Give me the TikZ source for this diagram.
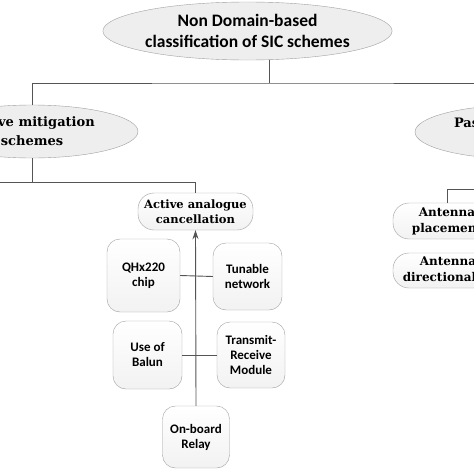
\documentclass[tikz,border=0pt]{standalone}
\usepackage{fontspec}
\setmainfont{DejaVu Serif}
\newfontfamily\calib{Carlito}
\usetikzlibrary{shapes.geometric,arrows.meta}
\definecolor{rim}{HTML}{A0A0A0}
\definecolor{wire}{HTML}{555555}
\definecolor{ovalfill}{HTML}{EEEEEE}
\definecolor{cardfill}{HTML}{F2F2F2}
\tikzset{
  oval/.style={ellipse, draw=rim, fill=ovalfill, inner sep=0pt, align=center,
    font=\fontsize{13}{19}\selectfont\bfseries},
  pill/.style={draw=rim, rounded corners=16pt, top color=white, bottom color=cardfill,
    inner sep=0pt, align=center, font=\fontsize{11.5}{15}\selectfont\bfseries},
  card/.style={draw=rim, rounded corners=13pt, top color=white, bottom color=cardfill,
    inner sep=0pt, align=center, font=\calib\fontsize{13}{15}\selectfont\bfseries},
  link/.style={draw=wire, line width=0.9pt},
}

\begin{document}
\begin{tikzpicture}[x=1pt,y=-1pt]
\useasboundingbox (0,0) rectangle (474,474);
\clip (0,0) rectangle (474,474);
\fill[white] (0,0) rectangle (474,474);

% level one
\node[oval, minimum width=285, minimum height=58,
  font=\calib\fontsize{17.5}{21}\selectfont\bfseries] (root) at (247.5,31)
  {Non Domain-based\\classification of SIC schemes};
\node[oval, minimum width=212, minimum height=53] (active) at (32,131.5)
  {Active mitigation\\schemes};
\node[oval, minimum width=212, minimum height=54] (passive) at (521,132)
  {Passive mitigation\\schemes};

% active branch
\node[pill, minimum width=115, minimum height=37] (aac) at (195.5,211.5)
  {Active analogue\\cancellation};
\node[card, minimum width=73, minimum height=73] (qhx) at (143.5,275.5) {QHx220\\chip};
\node[card, minimum width=69, minimum height=67] (tune) at (247.5,276.5) {Tunable\\network};
\node[card, minimum width=69, minimum height=68] (balun) at (147.5,355) {Use of\\Balun};
\node[card, minimum width=68, minimum height=66] (trm) at (251,355) {Transmit-\\Receive\\Module};
\node[card, minimum width=67, minimum height=62] (relay) at (196,437) {On-board\\Relay};

% passive branch
\node[pill, minimum width=108, minimum height=36, font=\fontsize{12}{16}\selectfont\bfseries]
  (antplace) at (447,221) {Antenna\\placement};
\node[pill, minimum width=110, minimum height=35, font=\fontsize{12}{16}\selectfont\bfseries]
  (antdir) at (448,270.5) {Antenna\\directionality};

% connectors
\coordinate (rootjoin) at (269,83);
\coordinate (lbus) at (-20,182);
\coordinate (rbus) at (500,189);
\draw[link] (root.south -| rootjoin) -- (rootjoin);
\draw[link] (active.north) |- (rootjoin) -| (passive.north);
\draw[link] (active.south) -- (active.south |- lbus);
\draw[link] (lbus) -| (aac.north);
\draw[link] (rbus) -| (antplace.north);
\draw[link, -{Stealth[length=9pt,width=6pt]}] (relay.north) -- (aac.south);
\draw[link] (qhx.east) -- (tune.west);
\draw[link] (balun.east) -- (trm.west);
\end{tikzpicture}
\end{document}
